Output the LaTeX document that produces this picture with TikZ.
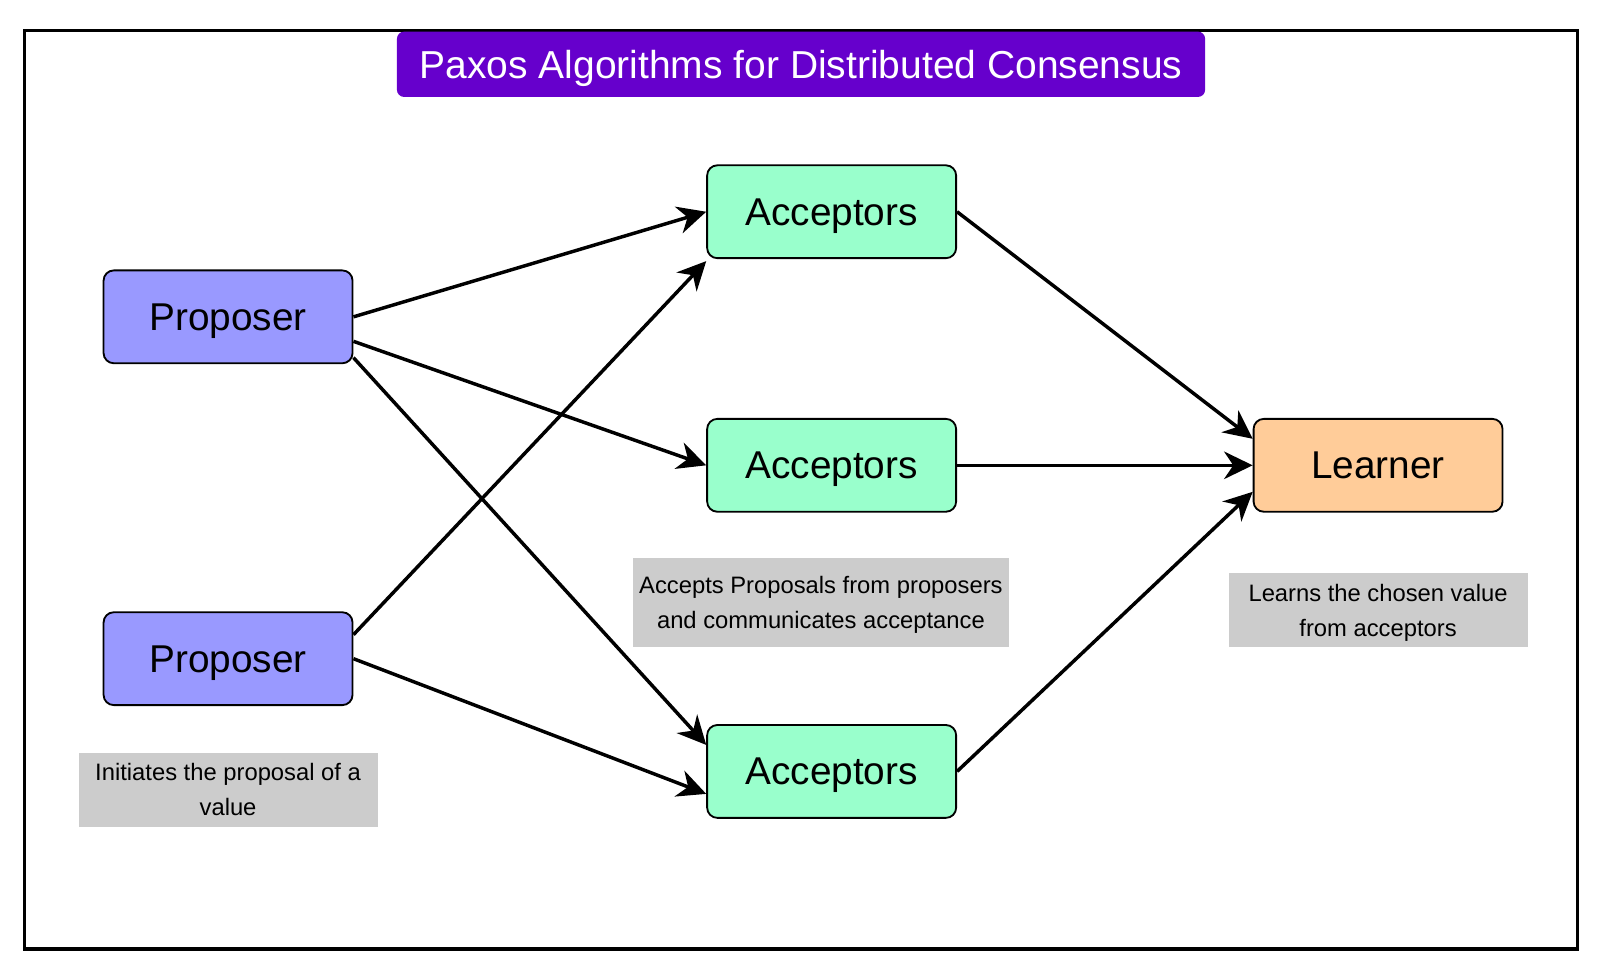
\documentclass[tikz,border=0pt]{standalone}
\usepackage{fontspec}
\setmainfont{Liberation Sans}
\usetikzlibrary{arrows.meta}
\definecolor{titlec}{HTML}{6600CC}
\definecolor{propc}{HTML}{9999FF}
\definecolor{accc}{HTML}{99FFCC}
\definecolor{learnc}{HTML}{FFCC99}
\definecolor{notec}{HTML}{CCCCCC}
\tikzset{
  box/.style={draw=black, line width=1.8pt, rounded corners=10pt, minimum width=244pt, minimum height=91pt, inner sep=0pt, text depth=0pt, font=\fontsize{38}{46}\selectfont},
  propbox/.style={box, fill=propc},
  accbox/.style={box, fill=accc},
  learnbox/.style={box, fill=learnc},
  notebox/.style={fill=notec, draw=none, inner sep=0pt, align=center, font=\fontsize{23.3}{34}\selectfont},
  conn/.style={line width=3.4pt, -{Stealth[length=28pt,width=27pt,inset=9pt]}},
}
\begin{document}
\begin{tikzpicture}[x=1pt,y=-1pt]
\useasboundingbox (0,0) rectangle (1568,950.6);
\draw[line width=3pt] (24,30) rectangle (1546,930);
\node[fill=titlec, rounded corners=7pt, minimum width=792pt, minimum height=64pt, inner sep=0pt, text depth=0pt, text=white, font=\fontsize{38.2}{46}\selectfont] (title) at (785,63) {Paxos Algorithms for Distributed Consensus};
\node[propbox] (p1) at (223.5,310.5) {Proposer};
\node[propbox] (p2) at (223.5,645.5) {Proposer};
\node[accbox] (a1) at (815,207.5) {Acceptors};
\node[accbox] (a2) at (815,456) {Acceptors};
\node[accbox] (a3) at (815,756) {Acceptors};
\node[learnbox] (l) at (1350.5,456) {Learner};
\node[notebox, minimum width=293pt, minimum height=72pt] (n1) at (223.5,774) {Initiates the proposal of a\\value};
\node[notebox, minimum width=369pt, minimum height=87pt, text depth=0pt] (n2) at (804.5,590.5) {Accepts Proposals from proposers\\and communicates acceptance};
\node[notebox, minimum width=293pt, minimum height=72pt, text depth=0pt] (n3) at (1350.5,598) {Learns the chosen value\\from acceptors};
\draw[conn] (p1.east) -- (a1.west);
\draw[conn] ([yshift=-24pt]p1.east) -- (a2.west);
\draw[conn] ([yshift=-40pt]p1.east) -- ([yshift=26pt]a3.west);
\draw[conn] ([yshift=23.5pt]p2.east) -- ([yshift=-2pt]a1.south west);
\draw[conn] (p2.east) -- ([yshift=-22pt]a3.west);
\draw[conn] (a1.east) -- ([yshift=26pt]l.west);
\draw[conn] (a2.east) -- (l.west);
\draw[conn] (a3.east) -- ([yshift=-26pt]l.west);
\end{tikzpicture}
\end{document}
